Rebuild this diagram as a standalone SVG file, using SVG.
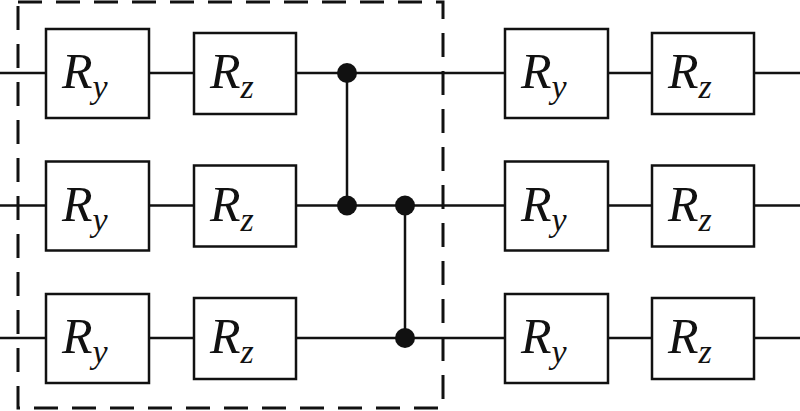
<svg xmlns="http://www.w3.org/2000/svg" width="800" height="411" viewBox="0 0 800 411">
<style>
.w{stroke:#111;stroke-width:2.5;fill:none}
.b{stroke:#111;stroke-width:2.5;fill:#fff}
.t{font-family:"Liberation Serif",serif;font-style:italic;font-size:50px;fill:#111}
.s{font-size:34px}
</style>
<rect width="800" height="411" fill="#fff"/>
<g id="connectors">
<line class="w" x1="0" y1="73" x2="800" y2="73"/>
<line class="w" x1="0" y1="205.5" x2="800" y2="205.5"/>
<line class="w" x1="0" y1="338" x2="800" y2="338"/>
<line class="w" x1="347" y1="73" x2="347" y2="205.5"/>
<line class="w" x1="405" y1="205.5" x2="405" y2="338"/>
<circle cx="347" cy="73" r="10" fill="#111"/>
<circle cx="347" cy="205.5" r="10" fill="#111"/>
<circle cx="405" cy="205.5" r="10" fill="#111"/>
<circle cx="405" cy="338" r="10" fill="#111"/>
</g>
<rect id="block" x="18" y="2" width="425" height="406" fill="none" stroke="#111" stroke-width="3" stroke-dasharray="24,14"/>
<defs>
<g id="ry"><rect class="b" x="0" y="-44" width="103" height="89"/><text class="t" x="16" y="15">R<tspan class="s" dy="10">y</tspan></text></g>
<g id="rz"><rect class="b" x="0" y="-40" width="102" height="81"/><text class="t" x="16" y="15">R<tspan class="s" dy="10">z</tspan></text></g>
</defs>
<g id="ry1"><use href="#ry" x="46" y="73"/></g>
<g id="rz1"><use href="#rz" x="194" y="73"/></g>
<g id="ry2"><use href="#ry" x="46" y="205.5"/></g>
<g id="rz2"><use href="#rz" x="194" y="205.5"/></g>
<g id="ry3"><use href="#ry" x="46" y="338"/></g>
<g id="rz3"><use href="#rz" x="194" y="338"/></g>
<g id="ry4"><use href="#ry" x="505" y="73"/></g>
<g id="rz4"><use href="#rz" x="652" y="73"/></g>
<g id="ry5"><use href="#ry" x="505" y="205.5"/></g>
<g id="rz5"><use href="#rz" x="652" y="205.5"/></g>
<g id="ry6"><use href="#ry" x="505" y="338"/></g>
<g id="rz6"><use href="#rz" x="652" y="338"/></g>
</svg>
